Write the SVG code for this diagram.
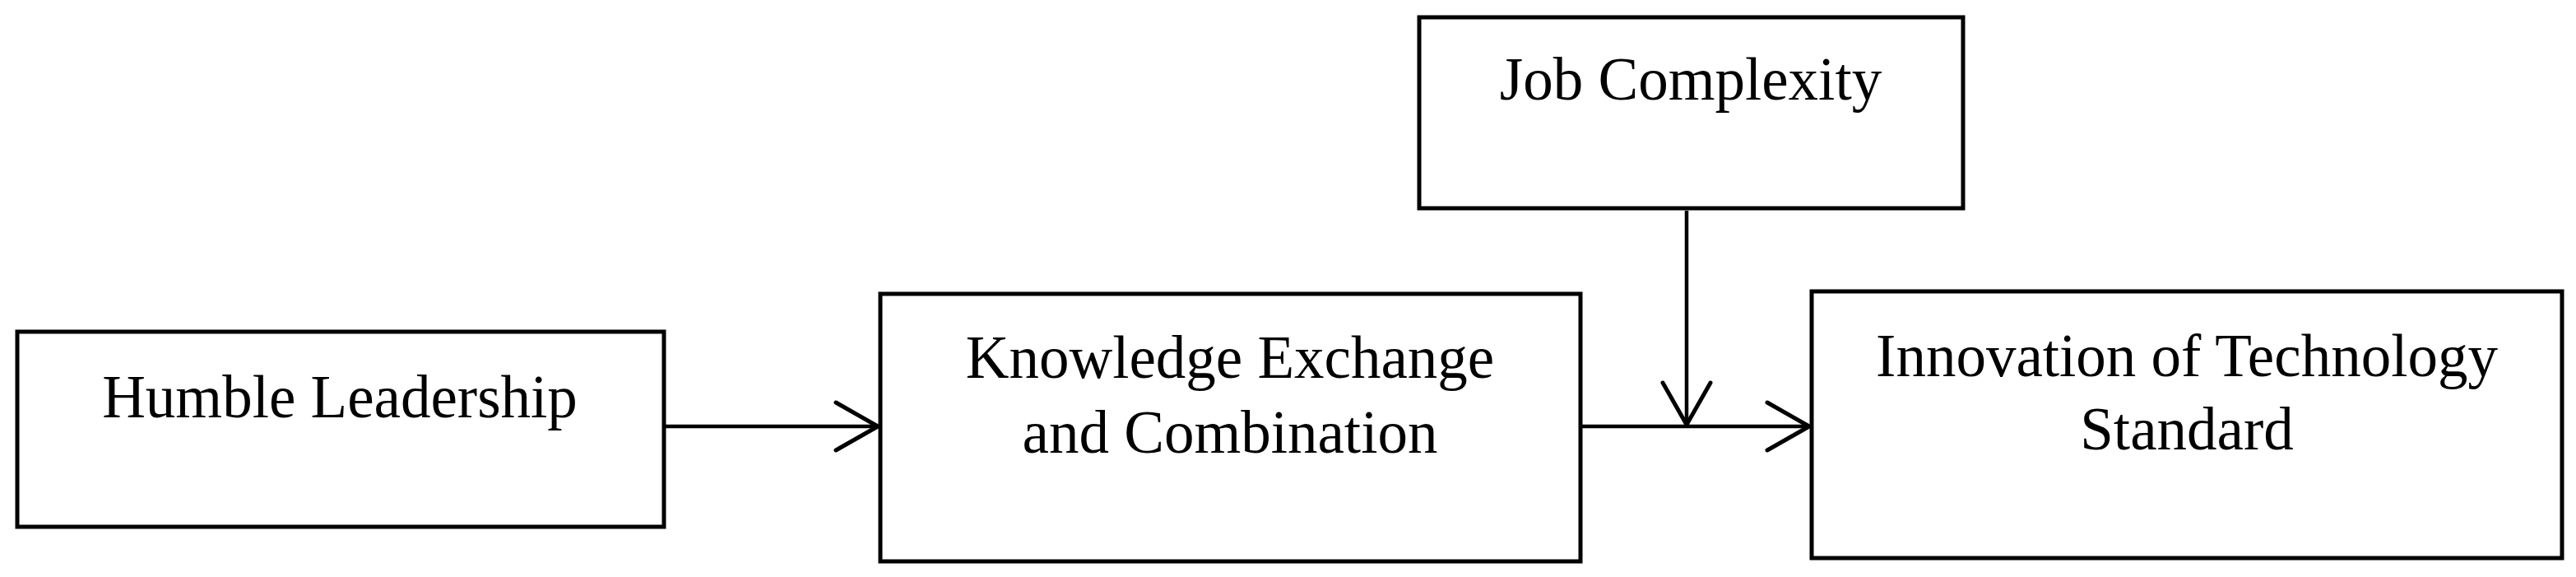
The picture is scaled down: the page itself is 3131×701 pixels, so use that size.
<svg xmlns="http://www.w3.org/2000/svg" width="3131" height="701" viewBox="0 0 3131 701">
<style>
.box{fill:#fff;stroke:#000;stroke-width:5}
.lbl{font-family:"Liberation Serif","Times New Roman",serif;font-size:73px;fill:#000;text-anchor:middle}
.conn{stroke:#000;stroke-width:4.5;fill:none}
</style>
<defs>
<marker id="open" viewBox="-60 -35 65 70" refX="0" refY="0" markerWidth="65" markerHeight="70" markerUnits="userSpaceOnUse" orient="auto">
<path d="M-51,-29 L0,0 L-51,29" fill="none" stroke="#000" stroke-width="5" stroke-linejoin="round" stroke-linecap="round"/>
</marker>
</defs>
<rect width="3131" height="701" fill="#fff"/>
<g id="connectors">
<line class="conn" x1="808" y1="518" x2="1067" y2="518" marker-end="url(#open)"/>
<line class="conn" x1="1923" y1="518" x2="2199" y2="518" marker-end="url(#open)"/>
<line class="conn" x1="2050" y1="256" x2="2050" y2="516" marker-end="url(#open)"/>
</g>
<g id="humble">
<rect class="box" x="21" y="403" width="786" height="237"/>
<text class="lbl" x="413" y="507">Humble Leadership</text>
</g>
<g id="knowledge">
<rect class="box" x="1070" y="357" width="851" height="325"/>
<text class="lbl" x="1495" y="459">Knowledge Exchange</text>
<text class="lbl" x="1495" y="550">and Combination</text>
</g>
<g id="job">
<rect class="box" x="1725" y="21" width="661" height="232"/>
<text class="lbl" x="2055" y="121">Job Complexity</text>
</g>
<g id="innovation">
<rect class="box" x="2202" y="354" width="912" height="324"/>
<text class="lbl" x="2658" y="457">Innovation of Technology</text>
<text class="lbl" x="2658" y="546">Standard</text>
</g>
</svg>
